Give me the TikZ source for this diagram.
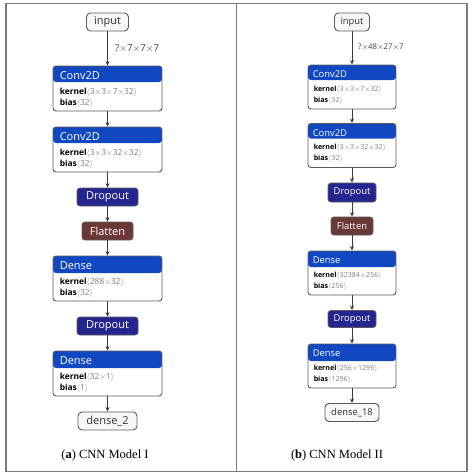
\documentclass[tikz,border=0pt]{standalone}
\usepackage{fontspec}
\setmainfont{Liberation Serif}
\newfontfamily\uifont{Open Sans}
\usetikzlibrary{arrows.meta}
\definecolor{hdrblue}{HTML}{1148C2}
\definecolor{dropc}{HTML}{25258F}
\definecolor{flatc}{HTML}{6B3838}
\definecolor{edgec}{HTML}{5A5A5A}
\definecolor{arrc}{HTML}{3A3A3A}
\definecolor{framec}{HTML}{7A7A7A}
\definecolor{dimc}{HTML}{808080}
\tikzset{
  layerbox/.style={draw=edgec, line width=0.9pt, rounded corners=3pt, fill=white, inner sep=0pt,
    path picture={\fill[hdrblue] (path picture bounding box.north west) rectangle ([yshift=-#1]path picture bounding box.north east);}},
  termbox/.style={draw=edgec, line width=0.9pt, rounded corners=4pt, fill=gray!6, inner sep=0pt, text=black!80},
  dropbox/.style={draw=edgec, line width=0.8pt, rounded corners=3pt, fill=dropc, inner sep=0pt, text=white},
  flatbox/.style={draw=edgec, line width=0.8pt, rounded corners=3pt, fill=flatc, inner sep=0pt, text=white},
  hdrtext/.style={anchor=west, inner sep=0pt, text=white},
  bodytext/.style={anchor=west, inner sep=0pt, text=black},
  arr/.style={draw=arrc, line width=1pt, -{Stealth[length=4.5pt,width=4pt]}},
  fa/.style={font=\uifont\fontsize{11}{13}\selectfont},
  fab/.style={font=\uifont\fontsize{8.4}{10}\selectfont},
  fal/.style={font=\uifont\fontsize{9.6}{11}\selectfont},
  fb/.style={font=\uifont\fontsize{9.4}{11}\selectfont},
  fbb/.style={font=\uifont\fontsize{7.1}{8.5}\selectfont},
  fbl/.style={font=\uifont\fontsize{7.8}{9}\selectfont},
}
\newcommand\dimtxt[1]{\textcolor{dimc}{$\langle$#1$\rangle$}}
\begin{document}
\begin{tikzpicture}[x=1pt,y=-1pt]
\useasboundingbox (0,0) rectangle (474,474);
% frame
\draw[framec, line width=1.3pt] (6,3.5) rectangle (467,471.5);
\draw[framec, line width=1.3pt] (236.7,3.5) -- (236.7,471.5);

% ---------------- Panel (a) ----------------
\node[termbox, fa, minimum width=42pt, minimum height=18pt] (inA) at (107.5,22) {input};
\node[anchor=west, inner sep=0pt, fal, text=black!75] (shA) at (115,48) {?$\times$7$\times$7$\times$7};

\node[layerbox=16pt, minimum width=109pt, minimum height=45pt] (c1A) at (107.5,88.5) {};
\node[hdrtext, fa] (c1At) at ([xshift=7pt,yshift=-10pt]c1A.north west) {Conv2D};
\node[bodytext, fab] (c1Ak) at ([xshift=7pt,yshift=-27pt]c1A.north west) {\textbf{kernel}\dimtxt{3$\times$3$\times$7$\times$32}};
\node[bodytext, fab] (c1Ab) at ([xshift=7pt,yshift=-38pt]c1A.north west) {\textbf{bias}\dimtxt{32}};

\node[layerbox=16pt, minimum width=109pt, minimum height=45pt] (c2A) at (107.5,149.5) {};
\node[hdrtext, fa] (c2At) at ([xshift=7pt,yshift=-10pt]c2A.north west) {Conv2D};
\node[bodytext, fab] (c2Ak) at ([xshift=7pt,yshift=-27pt]c2A.north west) {\textbf{kernel}\dimtxt{3$\times$3$\times$32$\times$32}};
\node[bodytext, fab] (c2Ab) at ([xshift=7pt,yshift=-38pt]c2A.north west) {\textbf{bias}\dimtxt{32}};

\node[dropbox, fa, minimum width=61pt, minimum height=18pt] (d1A) at (107.5,197) {Dropout};
\node[flatbox, fa, minimum width=51pt, minimum height=18pt] (fA) at (107.5,231) {Flatten};

\node[layerbox=17pt, minimum width=109pt, minimum height=45pt] (e1A) at (107.5,278.5) {};
\node[hdrtext, fa] (e1At) at ([xshift=7pt,yshift=-10pt]e1A.north west) {Dense};
\node[bodytext, fab] (e1Ak) at ([xshift=7pt,yshift=-27pt]e1A.north west) {\textbf{kernel}\dimtxt{288$\times$32}};
\node[bodytext, fab] (e1Ab) at ([xshift=7pt,yshift=-38pt]e1A.north west) {\textbf{bias}\dimtxt{32}};

\node[dropbox, fa, minimum width=61pt, minimum height=18pt] (d2A) at (107.5,326) {Dropout};

\node[layerbox=17pt, minimum width=109pt, minimum height=45pt] (e2A) at (107.5,373.5) {};
\node[hdrtext, fa] (e2At) at ([xshift=7pt,yshift=-10pt]e2A.north west) {Dense};
\node[bodytext, fab] (e2Ak) at ([xshift=7pt,yshift=-27pt]e2A.north west) {\textbf{kernel}\dimtxt{32$\times$1}};
\node[bodytext, fab] (e2Ab) at ([xshift=7pt,yshift=-38pt]e2A.north west) {\textbf{bias}\dimtxt{1}};

\node[termbox, fa, minimum width=59pt, minimum height=18pt] (oA) at (107.5,421) {dense\_2};

\draw[arr] (inA) -- (c1A);
\draw[arr] (c1A) -- (c2A);
\draw[arr] (c2A) -- (d1A);
\draw[arr] (d1A) -- (fA);
\draw[arr] (fA) -- (e1A);
\draw[arr] (e1A) -- (d2A);
\draw[arr] (d2A) -- (e2A);
\draw[arr] (e2A) -- (oA);

\node[font=\fontsize{12.5}{14}\selectfont] (capA) at (105,455) {(\textbf{a}) CNN Model I};

% ---------------- Panel (b) ----------------
\node[termbox, fb, minimum width=35pt, minimum height=18pt] (inB) at (352,22) {input};
\node[anchor=west, inner sep=0pt, fbl, text=black!75] (shB) at (358,47) {?$\times$48$\times$27$\times$7};

\node[layerbox=15pt, minimum width=88pt, minimum height=44pt] (c1B) at (352,87) {};
\node[hdrtext, fb] (c1Bt) at ([xshift=5pt,yshift=-10pt]c1B.north west) {Conv2D};
\node[bodytext, fbb] (c1Bk) at ([xshift=6pt,yshift=-25pt]c1B.north west) {\textbf{kernel}\dimtxt{3$\times$3$\times$7$\times$32}};
\node[bodytext, fbb] (c1Bb) at ([xshift=6pt,yshift=-36pt]c1B.north west) {\textbf{bias}\dimtxt{32}};

\node[layerbox=15pt, minimum width=88pt, minimum height=44pt] (c2B) at (352,145.5) {};
\node[hdrtext, fb] (c2Bt) at ([xshift=5pt,yshift=-10pt]c2B.north west) {Conv2D};
\node[bodytext, fbb] (c2Bk) at ([xshift=6pt,yshift=-25pt]c2B.north west) {\textbf{kernel}\dimtxt{3$\times$3$\times$32$\times$32}};
\node[bodytext, fbb] (c2Bb) at ([xshift=6pt,yshift=-36pt]c2B.north west) {\textbf{bias}\dimtxt{32}};

\node[dropbox, fb, minimum width=48pt, minimum height=19pt] (d1B) at (352,192.5) {Dropout};
\node[flatbox, fb, minimum width=42pt, minimum height=18pt] (fB) at (352,226) {Flatten};

\node[layerbox=16pt, minimum width=88pt, minimum height=44pt] (e1B) at (352,273) {};
\node[hdrtext, fb] (e1Bt) at ([xshift=5pt,yshift=-10pt]e1B.north west) {Dense};
\node[bodytext, fbb] (e1Bk) at ([xshift=6pt,yshift=-25pt]e1B.north west) {\textbf{kernel}\dimtxt{32384$\times$256}};
\node[bodytext, fbb] (e1Bb) at ([xshift=6pt,yshift=-36pt]e1B.north west) {\textbf{bias}\dimtxt{256}};

\node[dropbox, fb, minimum width=48pt, minimum height=17pt] (d2B) at (352,319) {Dropout};

\node[layerbox=17pt, minimum width=88pt, minimum height=44pt] (e2B) at (352,366) {};
\node[hdrtext, fb] (e2Bt) at ([xshift=5pt,yshift=-10pt]e2B.north west) {Dense};
\node[bodytext, fbb] (e2Bk) at ([xshift=6pt,yshift=-25pt]e2B.north west) {\textbf{kernel}\dimtxt{256$\times$1296}};
\node[bodytext, fbb] (e2Bb) at ([xshift=6pt,yshift=-36pt]e2B.north west) {\textbf{bias}\dimtxt{1296}};

\node[termbox, fb, minimum width=54pt, minimum height=18pt] (oB) at (352,412.5) {dense\_18};

\draw[arr] (inB) -- (c1B);
\draw[arr] (c1B) -- (c2B);
\draw[arr] (c2B) -- (d1B);
\draw[arr] (d1B) -- (fB);
\draw[arr] (fB) -- (e1B);
\draw[arr] (e1B) -- (d2B);
\draw[arr] (d2B) -- (e2B);
\draw[arr] (e2B) -- (oB);

\node[font=\fontsize{12.5}{14}\selectfont] (capB) at (337,455) {(\textbf{b}) CNN Model II};
\end{tikzpicture}
\end{document}
